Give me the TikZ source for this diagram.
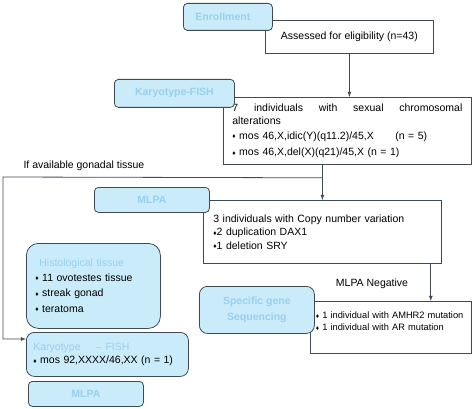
\documentclass[tikz,border=0pt]{standalone}
\usepackage{fontspec}
\setmainfont{Liberation Sans}
\definecolor{boxfill}{HTML}{C9EBFA}
\definecolor{titleblue}{HTML}{98D0EE}
\definecolor{edge}{HTML}{3E4B55}
\newcommand{\dmd}{{\fontsize{6.5}{6}\selectfont\raisebox{0.6pt}{♦}}}
\begin{document}
\begin{tikzpicture}[x=1pt,y=-1pt,font=\fontsize{10.5}{13.5}\selectfont]
        \tikzset{bluebox/.style={draw=edge,fill=boxfill,line width=0.8pt,rounded corners=4pt,anchor=north west,inner sep=0pt},
                 titlebox/.style={bluebox,text=titleblue,font=\fontsize{10.5}{16}\selectfont\bfseries,align=center},
                 whitebox/.style={draw=edge,fill=white,line width=0.8pt,anchor=north west,inner sep=0pt},
                 conn/.style={draw=edge,line width=0.8pt}};
        \useasboundingbox (0,0) rectangle (474,409);
        % top of the chart
        \node[whitebox,minimum width=168pt,minimum height=33pt] (assess) at (265,20) {Assessed for eligibility (n=43)};
        \node[titlebox,minimum width=89pt,minimum height=27pt] (enrol) at (183,3) {Enrollment\hspace{10pt}};
        \node[whitebox,text width=230pt,inner xsep=9pt,minimum height=67pt,align=left] (chrom) at (223,97) {\hbox to 230pt{7\hfill individuals\hfill with\hfill sexual\hfill chromosomal}\\alterations\\[1pt]\dmd\ mos 46,X,idic(Y)(q11.2)/45,X \hspace{18pt}(n = 5)\\[3pt]\dmd\ mos 46,X,del(X)(q21)/45,X (n = 1)};
        \node[titlebox,minimum width=120pt,minimum height=28pt] (karyo) at (114,79) {Karyotype-FISH};
        % copy number
        \node[whitebox,text width=218pt,inner xsep=10pt,minimum height=63pt,align=left] (cnv) at (203,200) {3 individuals with Copy number variation\\\dmd 2 duplication DAX1\\\dmd 1 deletion SRY};
        \node[titlebox,minimum width=115pt,minimum height=25pt] (mlpa) at (94,187) {MLPA};
        % gonadal tissue side
        \node[bluebox,rounded corners=12pt,text width=116pt,inner xsep=9pt,minimum height=85pt,align=left] (hist) at (26,243) {\hspace{4pt}\textcolor{titleblue}{Histological tissue}\\[1pt]\dmd\ 11 ovotestes tissue\\[2pt]\dmd\ streak gonad\\[2pt]\dmd\ teratoma};
        \node[bluebox,rounded corners=8pt,text width=148pt,inner xsep=7pt,minimum height=44pt,align=left] (karyo2) at (26,332) {\textcolor{titleblue}{Karyotype \hspace{12pt}-- FISH}\\\dmd\ mos 92,XXXX/46,XX (n = 1)};
        \node[titlebox,minimum width=115pt,minimum height=25pt] (mlpa2) at (28,381) {MLPA};
        % sequencing
        \node[whitebox,text width=150pt,inner xsep=5.5pt,minimum height=52pt,align=left,font=\fontsize{9.3}{12}\selectfont] (mut) at (310,301) {\mbox{\dmd\ 1 individual with AMHR2 mutation}\\\mbox{\dmd\ 1 individual with AR mutation}\\\mbox{}};
        \node[titlebox,rounded corners=8pt,minimum width=115pt,minimum height=47pt] (seq) at (199,286) {Specific gene\\Sequencing\hspace{8pt}};
        \node (neg) at (372,284) {MLPA Negative};
        \node[anchor=west] (gonad) at (20,166) {If available gonadal tissue};
        % connectors
        \draw[conn,-latex] (assess.south) -- (assess.south |- chrom.north);
        \draw[conn,-latex] (chrom.south -| cnv.north) -- (cnv.north);
        \path (chrom.south -| cnv.north) ++(0,13) coordinate (split);
        \coordinate (turn) at (3,177);
        \draw[conn,-latex] (split) -- (turn) |- ([yshift=-7pt]karyo2.north west);
        \draw[conn,-latex] ([xshift=-11pt]cnv.south east) -- ([xshift=-11pt]cnv.south east |- mut.north);
\end{tikzpicture}
\end{document}
